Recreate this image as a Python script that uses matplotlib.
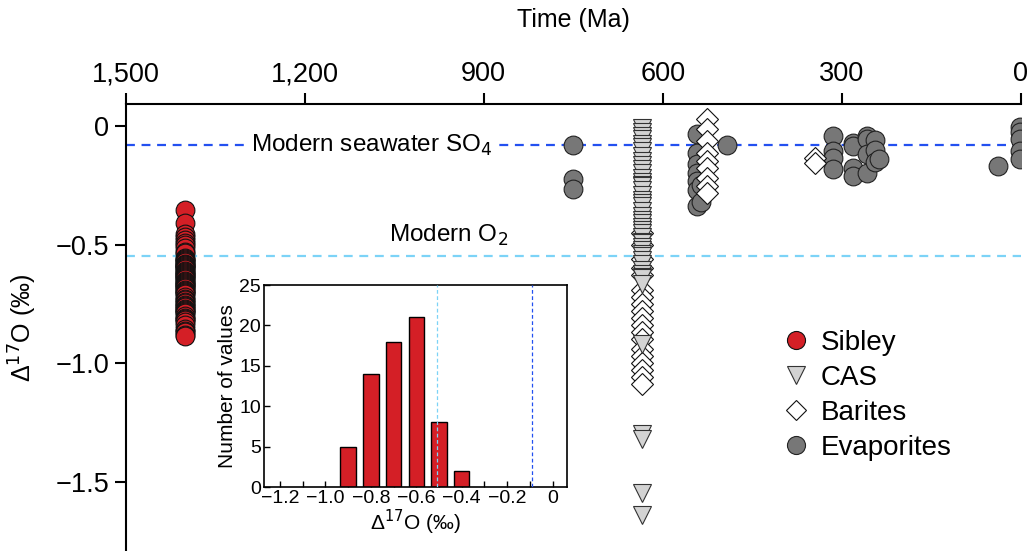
import numpy as np
import matplotlib
matplotlib.use("Agg")
from matplotlib import pyplot as plt
from matplotlib.lines import Line2D
from matplotlib.ticker import FuncFormatter

plt.rcParams['font.family'] = ['Liberation Sans', 'DejaVu Sans']
plt.rcParams['axes.unicode_minus'] = True

# Sibley formation (~1.4 Ga)
sibley_age = 1400
sibley_d17o = [-0.353, -0.41,
               -0.455, -0.47, -0.48, -0.495, -0.50, -0.515, -0.53, -0.537,
               -0.555, -0.56, -0.565, -0.57, -0.575, -0.58, -0.585, -0.587, -0.59, -0.595,
               -0.60, -0.605, -0.61, -0.615, -0.62, -0.623, -0.628, -0.633, -0.638, -0.64, -0.645,
               -0.655, -0.658, -0.662, -0.667, -0.67, -0.675, -0.68, -0.685, -0.69, -0.695,
               -0.70, -0.705, -0.71, -0.72, -0.73, -0.735, -0.743, -0.748,
               -0.755, -0.76, -0.765, -0.77, -0.775, -0.779, -0.785, -0.79, -0.80, -0.81,
               -0.815, -0.82, -0.828, -0.84,
               -0.855, -0.865, -0.87, -0.88, -0.885]

# carbonate associated sulfate (~635 Ma)
cas_age = 635
cas_d17o = [-0.01, -0.027, -0.04, -0.055, -0.077, -0.09, -0.105, -0.126, -0.148, -0.165,
            -0.183, -0.2, -0.218, -0.235, -0.247, -0.254, -0.268, -0.29, -0.311, -0.325,
            -0.339, -0.36, -0.38, -0.396, -0.41, -0.424, -0.44, -0.452, -0.47, -0.488,
            -0.495, -0.509, -0.525, -0.538, -0.55, -0.566, -0.58, -0.609, -0.625, -0.637,
            -0.64, -0.665, -0.92, -1.30, -1.32, -1.55, -1.64]

# barites
barite_age = [635] * 19 + [526] * 9 + [345] * 2
barite_d17o = [-0.45, -0.5, -0.56, -0.6, -0.63, -0.69, -0.72, -0.75, -0.78, -0.81,
               -0.84, -0.87, -0.9, -0.94, -0.97, -1.0, -1.03, -1.06, -1.09,
               0.03, -0.013, -0.063, -0.112, -0.148, -0.176, -0.218, -0.254, -0.282,
               -0.133, -0.155]

# evaporites
evap_age = ([750] * 3 + [543] * 7 + [535] * 2 + [493] + [314] * 4 + [281] * 4
            + [258] * 4 + [245] * 3 + [237] + [1] * 5 + [38])
evap_d17o = [-0.081, -0.223, -0.265,
             -0.034, -0.112, -0.162, -0.197, -0.233, -0.268, -0.339,
             -0.25, -0.32,
             -0.081,
             -0.04, -0.105, -0.133, -0.183,
             -0.07, -0.084, -0.176, -0.21,
             -0.04, -0.055, -0.12, -0.2,
             -0.06, -0.10, -0.15,
             -0.14,
             -0.005, -0.027, -0.055, -0.106, -0.14,
             -0.17]

seawater_so4 = -0.08
modern_o2 = -0.55
inset_so4 = -0.09
inset_o2 = -0.51
hist_edges = [-0.95, -0.85, -0.75, -0.65, -0.55, -0.45, -0.35]

red = '#d41f26'
so4_col = '#2350f0'
o2_col = '#7cd3f7'

fig = plt.figure(figsize=(10.3, 5.51), dpi=100)
ax = fig.add_axes([125.7 / 1030, 0, 895 / 1030, 447 / 551])

ax.axhline(seawater_so4, color=so4_col, ls=(0, (4, 3)), lw=1.6, zorder=1)
ax.axhline(modern_o2, color=o2_col, ls=(0, (4, 3)), lw=1.6, zorder=1)
ax.text(1087, seawater_so4, 'Modern seawater SO$_4$', fontsize=17.5, ha='center', va='center',
        zorder=2, bbox=dict(facecolor='white', edgecolor='none', pad=4))
ax.text(859, modern_o2 + 0.035, 'Modern O$_2$', fontsize=17.5, ha='right', va='bottom', zorder=2)

ax.plot(evap_age, evap_d17o, 'o', ms=13.5, mfc='#777777', mec='#222222', mew=0.8, ls='none', zorder=3)
ax.plot(barite_age, barite_d17o, 'D', ms=11, mfc='white', mec='#111111', mew=0.8, ls='none', zorder=4)
ax.plot([cas_age] * len(cas_d17o), cas_d17o, 'v', ms=13.5, mfc='#d3d3d3', mec='#333333', mew=0.8,
        ls='none', zorder=5)
ax.plot([sibley_age] * len(sibley_d17o), sibley_d17o, 'o', ms=13.5, mfc=red, mec='#111111', mew=0.8,
        ls='none', zorder=5)

ax.set_xlim(1500, 0)
ax.set_ylim(-1.793, 0.093)
ax.set_xticks([1500, 1200, 900, 600, 300, 0])
ax.xaxis.set_major_formatter(FuncFormatter(lambda v, p: '{:,}'.format(int(v))))
ax.set_yticks([0, -0.5, -1.0, -1.5])
ax.set_yticklabels(['0', '\u22120.5', '\u22121.0', '\u22121.5'])
ax.xaxis.tick_top()
ax.xaxis.set_label_position('top')
ax.spines['right'].set_visible(False)
ax.spines['bottom'].set_visible(False)
for s in ['top', 'left']:
    ax.spines[s].set_linewidth(1.5)
ax.tick_params(axis='both', direction='out', length=8, width=1.5, labelsize=19.5, pad=4)
ax.set_xlabel('Time (Ma)', fontsize=18, labelpad=25)
ax.set_ylabel('\u0394$^{17}$O (\u2030)', fontsize=18, labelpad=12)

handles = [
    Line2D([], [], marker='o', ls='none', ms=13, mfc=red, mec='#111111', mew=0.8),
    Line2D([], [], marker='v', ls='none', ms=13, mfc='#d3d3d3', mec='#333333', mew=0.8),
    Line2D([], [], marker='D', ls='none', ms=10, mfc='white', mec='#111111', mew=0.8),
    Line2D([], [], marker='o', ls='none', ms=13, mfc='#777777', mec='#222222', mew=0.8),
]
ax.legend(handles, ['Sibley', 'CAS', 'Barites', 'Evaporites'], loc='upper left',
          bbox_to_anchor=(768 / 1030, 1 - 316 / 551), bbox_transform=fig.transFigure,
          frameon=False, fontsize=20, handlelength=1.0, handletextpad=0.4,
          labelspacing=0.32, borderpad=0)

# inset histogram of Sibley values
axi = fig.add_axes([264 / 1030, 64 / 551, 303 / 1030, 202 / 551])
axi.hist(sibley_d17o, bins=hist_edges, rwidth=0.68, color=red, edgecolor='black', lw=1.0, zorder=2)
axi.axvline(inset_o2, color=o2_col, ls=(0, (3, 2)), lw=0.9, zorder=3)
axi.axvline(inset_so4, color=so4_col, ls=(0, (3, 2)), lw=0.9, zorder=3)
axi.set_xlim(-1.27, 0.063)
axi.set_ylim(0, 25)
axi.set_xticks(np.round(np.arange(-1.2, 0.01, 0.1), 1), minor=True)
axi.set_xticks([-1.2, -1.0, -0.8, -0.6, -0.4, -0.2, 0])
axi.set_xticklabels(['\u22121.2', '\u22121.0', '\u22120.8', '\u22120.6', '\u22120.4', '\u22120.2', '0'])
axi.set_yticks([0, 5, 10, 15, 20, 25])
axi.tick_params(axis='both', which='both', direction='in', length=4, width=1.0, labelsize=14, pad=2)
for s in axi.spines.values():
    s.set_linewidth(1.2)
axi.set_xlabel('\u0394$^{17}$O (\u2030)', fontsize=15, labelpad=1)
axi.set_ylabel('Number of values', fontsize=15, labelpad=2)

fig.savefig('out.png', dpi=100)
